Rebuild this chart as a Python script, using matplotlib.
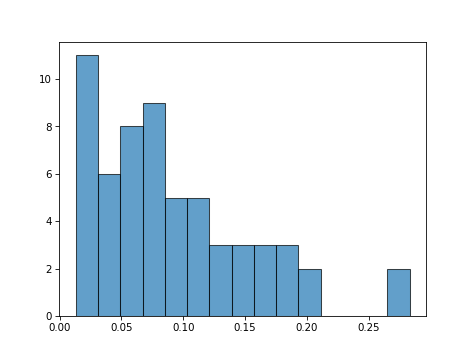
import numpy as np
import matplotlib.pyplot as plt

# histogram: 15 bins between the min and max of the sample
bin_start = 0.0132
bin_end = 0.2830
counts = [11, 6, 8, 9, 5, 5, 3, 3, 3, 3, 2, 0, 0, 0, 2]

edges = np.linspace(bin_start, bin_end, len(counts) + 1)
centers = (edges[:-1] + edges[1:]) / 2

plt.figure(figsize=(6.4, 4.8), dpi=74)
plt.hist(centers, bins=edges, weights=counts, alpha=0.7, edgecolor='black')
plt.savefig("out.png", dpi=74)
plt.close()
